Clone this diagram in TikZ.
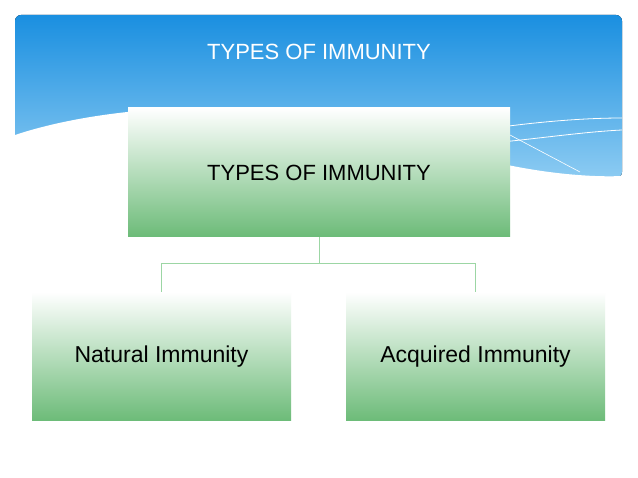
\documentclass[tikz,border=0pt]{standalone}
\usepackage{fontspec}
\setmainfont{Liberation Sans}
\usetikzlibrary{positioning}
\definecolor{skyblue}{HTML}{1A8FE0}
\definecolor{paleblue}{HTML}{8CCBF2}
\definecolor{leafgreen}{HTML}{6CBB78}
\definecolor{linkgreen}{HTML}{9CD6A4}
\tikzset{%
  every box/.style={
    draw=none,
    top color=white,
    bottom color=leafgreen,
    inner sep=0pt
  },
  box top/.style={
    minimum width=382pt,
    minimum height=129pt,
    font=\fontsize{22}{26}\selectfont
  },
  box low/.style={
    minimum width=259pt,
    minimum height=129pt,
    font=\fontsize{23}{27}\selectfont
  },
}
\begin{document}
\begin{tikzpicture}[x=1pt, y=-1pt]

    \useasboundingbox (0,0) rectangle (638,478);
    \fill[white] (0,0) rectangle (638,478);

    % header band
    \fill[top color=skyblue, bottom color=paleblue, rounded corners=6pt]
      (15,15) rectangle (622,178);
    \fill[white] (15,135) .. controls (120,100) and (300,95) .. (420,140)
      .. controls (500,170) and (580,178) .. (622,176) -- (622,180) -- (15,180) -- cycle;
    \draw[white, line width=0.8pt] (420,140) .. controls (500,125) and (570,118) .. (622,118);
    \draw[white, line width=0.8pt] (470,145) .. controls (530,140) and (580,132) .. (622,130);
    \draw[white, line width=0.6pt] (510,135) -- (580,172);
    \node[text=white, font=\fontsize{22}{26}\selectfont] (title) at (319,52) {TYPES OF IMMUNITY};

    % boxes
    \node[every box, box top] (types) at (319,172.5) {TYPES OF IMMUNITY};
    \node[every box, box low] (natural) at (161.5,356.5) {Natural Immunity};
    \node[every box, box low] (acquired) at (475.5,356.5) {Acquired Immunity};

    % connectors
    \coordinate (split) at (319,263);
    \draw[linkgreen, line width=0.8pt] (types.south) -- (split);
    \draw[linkgreen, line width=0.8pt] (split) -| (natural.north);
    \draw[linkgreen, line width=0.8pt] (split) -| (acquired.north);

\end{tikzpicture}
\end{document}
